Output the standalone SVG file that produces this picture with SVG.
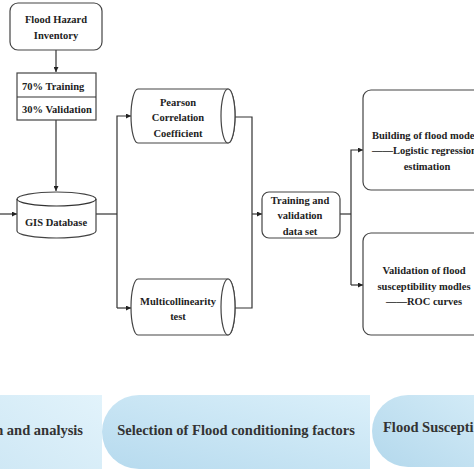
<svg xmlns="http://www.w3.org/2000/svg" width="474" height="474" viewBox="0 0 474 474">
<defs>
<marker id="arr" viewBox="0 0 10 10" refX="10" refY="5" markerWidth="5" markerHeight="5" orient="auto" markerUnits="userSpaceOnUse">
<path d="M0,0 L10,5 L0,10 Z" fill="#222"/>
</marker>
<linearGradient id="g1" x1="0" y1="1" x2="1" y2="0">
<stop offset="0" stop-color="#cfe8f5"/>
<stop offset="1" stop-color="#e2f3fb"/>
</linearGradient>
<linearGradient id="g2" x1="0" y1="1" x2="1" y2="0">
<stop offset="0" stop-color="#b6daee"/>
<stop offset="1" stop-color="#dbf0fa"/>
</linearGradient>
<linearGradient id="g3" x1="0" y1="1" x2="1" y2="0">
<stop offset="0" stop-color="#b3d8ec"/>
<stop offset="1" stop-color="#d3ebf7"/>
</linearGradient>
</defs>
<style>
.box{fill:#fff;stroke:#444;stroke-width:1.2}
.ln{fill:none;stroke:#333;stroke-width:1.2}
.t{font-family:"Liberation Serif","Times New Roman",serif;font-weight:bold;font-size:10.5px;fill:#222}
.c{text-anchor:middle}
.b{font-family:"Liberation Serif","Times New Roman",serif;font-weight:bold;font-size:14.5px;fill:#333}
</style>
<rect width="474" height="474" fill="#fff"/>

<g id="connectors">
<path class="ln" d="M56,50 V72" marker-end="url(#arr)"/>
<path class="ln" d="M56,120 V191" marker-end="url(#arr)"/>
<path class="ln" d="M0,214 H17" marker-end="url(#arr)"/>
<path class="ln" d="M96,214 H117"/>
<path class="ln" d="M117,308 V116 H131" marker-end="url(#arr)"/>
<path class="ln" d="M117,308 H131" marker-end="url(#arr)"/>
<path class="ln" d="M235,117 H252 V308 H235"/>
<path class="ln" d="M252,214 H262" marker-end="url(#arr)"/>
<path class="ln" d="M340,214 H351"/>
<path class="ln" d="M351,285 V150 H363" marker-end="url(#arr)"/>
<path class="ln" d="M351,285 H363" marker-end="url(#arr)"/>
</g>

<g id="flood-hazard-inventory">
<rect class="box" x="10" y="3" width="92" height="47" rx="8"/>
<text class="t c" x="56" y="22.5">Flood Hazard</text>
<text class="t c" x="56" y="38.5">Inventory</text>
</g>

<g id="training-validation">
<rect class="box" x="17" y="73" width="79" height="47"/>
<line class="ln" x1="17" y1="97" x2="96" y2="97"/>
<text class="t" x="22" y="90">70% Training</text>
<text class="t" x="22" y="113">30% Validation</text>
</g>

<g id="gis-database">
<path class="box" d="M17,199 V231 A39.5,7 0 0 0 96,231 V199 A39.5,7 0 0 0 17,199 Z"/>
<path class="ln" d="M17,199 A39.5,7 0 0 0 96,199"/>
<text class="t c" x="56" y="226">GIS Database</text>
</g>

<g id="pearson">
<path class="box" d="M138,89 H228 A7,27 0 0 1 228,143 H138 A7,27 0 0 1 138,89 Z"/>
<ellipse class="box" cx="228" cy="116" rx="7" ry="27"/>
<text class="t c" x="178" y="105.5">Pearson</text>
<text class="t c" x="178" y="120.5">Correlation</text>
<text class="t c" x="178" y="136.5">Coefficient</text>
</g>

<g id="multicollinearity">
<path class="box" d="M138,279 H228 A7,28 0 0 1 228,335 H138 A7,28 0 0 1 138,279 Z"/>
<ellipse class="box" cx="228" cy="307" rx="7" ry="28"/>
<text class="t c" x="178" y="304.5">Multicollinearity</text>
<text class="t c" x="178" y="319.5">test</text>
</g>

<g id="training-data-set">
<rect class="box" x="262" y="192" width="78" height="46" rx="7"/>
<text class="t c" x="300" y="203.5">Training and</text>
<text class="t c" x="300" y="218.5">validation</text>
<text class="t c" x="300" y="234.5">data set</text>
</g>

<g id="building-model">
<rect class="box" x="363" y="90" width="130" height="100" rx="8"/>
<text class="t" x="372" y="138.5">Building of flood mode</text>
<text class="t" x="372" y="154">——Logistic regression</text>
<text class="t c" x="427" y="170">estimation</text>
</g>

<g id="validation-model">
<rect class="box" x="363" y="233" width="130" height="102" rx="8"/>
<text class="t c" x="424" y="273.5">Validation of flood</text>
<text class="t c" x="424" y="290">susceptibility modles</text>
<text class="t c" x="424" y="305">——ROC curves</text>
</g>

<g id="banner">
<rect x="0" y="395" width="102" height="74" fill="url(#g1)"/>
<path d="M139,395 H370 V469 H139 A37,37 0 0 1 139,395 Z" fill="url(#g2)"/>
<path d="M408,395 H480 V467 H408 A36,36 0 0 1 408,395 Z" fill="url(#g3)"/>
<text class="b" x="83" y="435" text-anchor="end">n and analysis</text>
<text class="b" x="236" y="435" text-anchor="middle">Selection of Flood conditioning factors</text>
<text class="b" x="383" y="432">Flood Suscepti</text>
</g>
</svg>
